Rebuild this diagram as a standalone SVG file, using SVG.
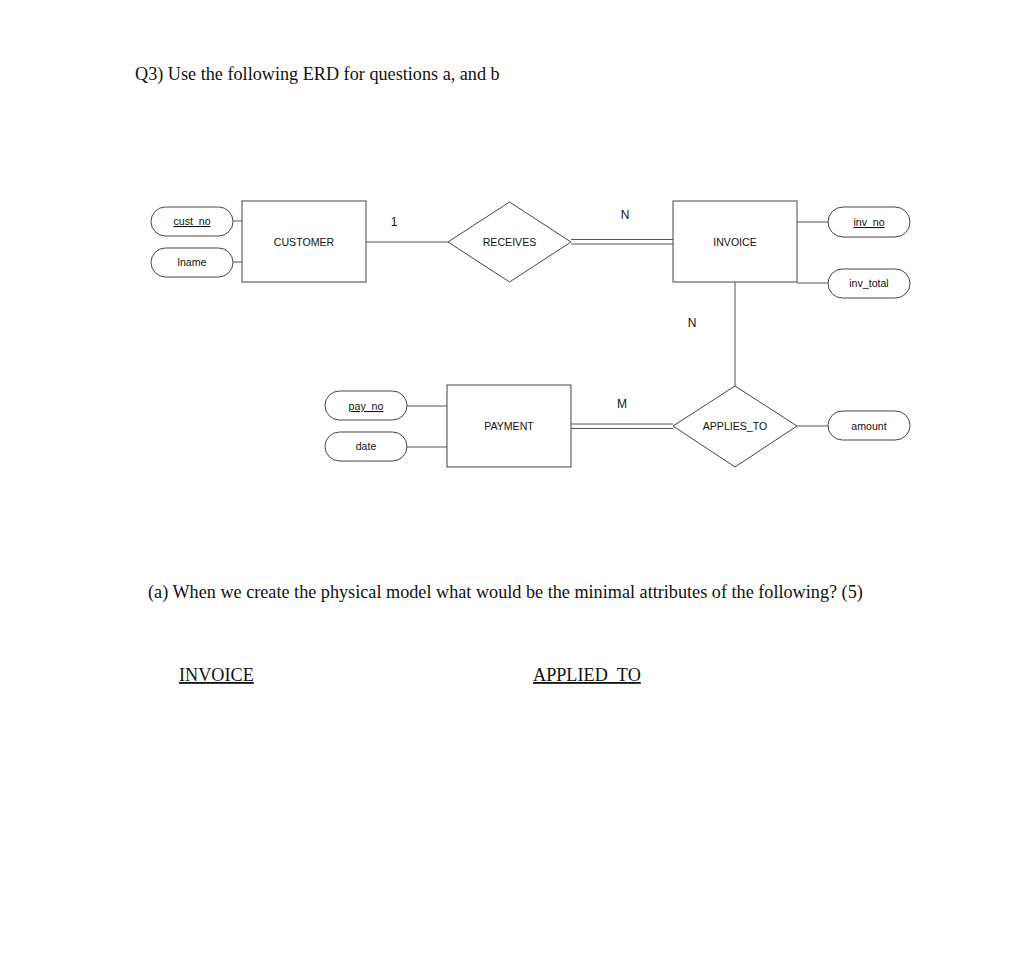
<svg xmlns="http://www.w3.org/2000/svg" width="1024" height="957" viewBox="0 0 1024 957">
<style>
.s{fill:#fff;stroke:#444;stroke-width:1}
.l{stroke:#555;stroke-width:1;fill:none}
.t{font-family:"Liberation Sans",Arial,sans-serif;font-size:10.6px;fill:#111;text-anchor:middle}
.c{font-family:"Liberation Sans",Arial,sans-serif;font-size:12px;fill:#111;text-anchor:middle}
.q{font-family:"Liberation Serif","Times New Roman",serif;font-size:18.2px;fill:#111}
</style>
<rect width="1024" height="957" fill="#fff"/>
<text class="q" x="135" y="80">Q3) Use the following ERD for questions a, and b</text>
<text class="q" x="148" y="598">(a)  When we create the physical model what would be the minimal attributes of the following? (5)</text>
<text class="q" x="179" y="681" text-decoration="underline">INVOICE</text>
<text class="q" x="533" y="681" text-decoration="underline">APPLIED_TO</text>
<g id="connectors">
<line class="l" x1="233" y1="221" x2="242" y2="221"/>
<line class="l" x1="233" y1="262" x2="242" y2="262"/>
<line class="l" x1="366" y1="242" x2="448" y2="242"/>
<line class="l" x1="571" y1="239.5" x2="673" y2="239.5"/>
<line class="l" x1="571" y1="244" x2="673" y2="244"/>
<line class="l" x1="797" y1="222" x2="828" y2="222"/>
<line class="l" x1="797" y1="283" x2="828" y2="283"/>
<line class="l" x1="735" y1="282" x2="735" y2="386"/>
<line class="l" x1="797" y1="426" x2="828" y2="426"/>
<line class="l" x1="407" y1="406" x2="447" y2="406"/>
<line class="l" x1="407" y1="447" x2="447" y2="447"/>
<line class="l" x1="571" y1="424" x2="673" y2="424"/>
<line class="l" x1="571" y1="428.5" x2="673" y2="428.5"/>
<text class="c" x="394" y="226">1</text>
<text class="c" x="625" y="219">N</text>
<text class="c" x="692" y="327">N</text>
<text class="c" x="622" y="408">M</text>
</g>
<g id="cust_no"><rect class="s" x="151" y="207" width="82" height="29" rx="14.5"/><text class="t" x="192" y="225" text-decoration="underline">cust_no</text></g>
<g id="lname"><rect class="s" x="151" y="248" width="82" height="29" rx="14.5"/><text class="t" x="192" y="266">lname</text></g>
<g id="customer"><rect class="s" x="242" y="201" width="124" height="81"/><text class="t" x="304" y="246">CUSTOMER</text></g>
<g id="receives"><polygon class="s" points="448,242 509.5,202 571,242 509.5,282"/><text class="t" x="509.5" y="246">RECEIVES</text></g>
<g id="invoice"><rect class="s" x="673" y="201" width="124" height="81"/><text class="t" x="735" y="246">INVOICE</text></g>
<g id="inv_no"><rect class="s" x="828" y="207" width="82" height="30" rx="15"/><text class="t" x="869" y="226" text-decoration="underline">inv_no</text></g>
<g id="inv_total"><rect class="s" x="828" y="269" width="82" height="29" rx="14.5"/><text class="t" x="869" y="287">inv_total</text></g>
<g id="applies_to"><polygon class="s" points="673,426 735,386 797,426 735,467"/><text class="t" x="735" y="430">APPLIES_TO</text></g>
<g id="amount"><rect class="s" x="828" y="411" width="82" height="29" rx="14.5"/><text class="t" x="869" y="430">amount</text></g>
<g id="payment"><rect class="s" x="447" y="385" width="124" height="82"/><text class="t" x="509" y="430">PAYMENT</text></g>
<g id="pay_no"><rect class="s" x="325" y="391" width="82" height="29" rx="14.5"/><text class="t" x="366" y="410" text-decoration="underline">pay_no</text></g>
<g id="date"><rect class="s" x="325" y="432" width="82" height="29" rx="14.5"/><text class="t" x="366" y="450">date</text></g>
</svg>
